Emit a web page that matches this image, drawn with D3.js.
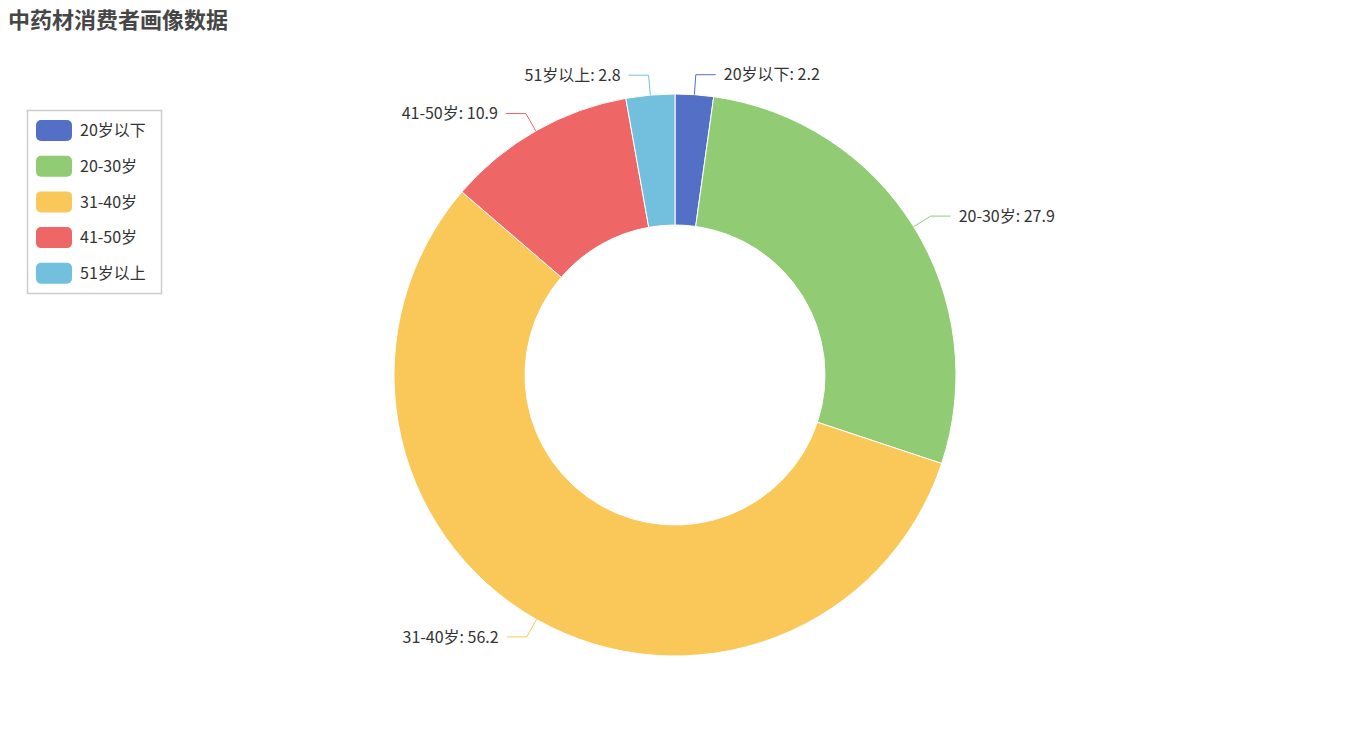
<!DOCTYPE html>
<html><head><meta charset="utf-8">
<script src="https://cdn.jsdelivr.net/npm/d3@7"></script>
<style>body{margin:0;background:#fff;font-family:"Microsoft YaHei","Noto Sans CJK SC",sans-serif;}</style>
</head><body>
<script>
// データ
const categories = ["20岁以下", "20-30岁", "31-40岁", "41-50岁", "51岁以上"];
const values = [2.2, 27.9, 56.2, 10.9, 2.8];
const colors = ["#5470c6", "#91cc75", "#fac858", "#ee6666", "#73c0de"];

const width = 1350, height = 750;
const cx = 675, cy = 375, outerR = 281, innerR = 150;

const svg = d3.select("body").append("svg").attr("width", width).attr("height", height);

// タイトル
svg.append("text").attr("x", 8).attr("y", 28)
  .attr("font-size", 22).attr("font-weight", "bold").attr("fill", "#464646")
  .text("中药材消费者画像数据");

const data = categories.map((c, i) => ({ name: c, value: values[i], color: colors[i] }));
const pie = d3.pie().value(d => d.value).sort(null);
const arcs = pie(data);
const arc = d3.arc().innerRadius(innerR).outerRadius(outerR);

const g = svg.append("g").attr("transform", `translate(${cx},${cy})`);
g.selectAll("path").data(arcs).enter().append("path")
  .attr("d", arc).attr("fill", d => d.data.color)
  .attr("stroke", "#fff").attr("stroke-width", 1);

// ラベル線
arcs.forEach(d => {
  const a = (d.startAngle + d.endAngle) / 2;
  const sx = Math.sin(a), sy = -Math.cos(a);
  const p0 = [sx * outerR, sy * outerR];
  const p1 = [sx * (outerR + 20), sy * (outerR + 20)];
  const right = sx >= 0;
  const p2 = [p1[0] + (right ? 20 : -20), p1[1]];
  g.append("polyline").attr("points", [p0, p1, p2].map(p => p.join(",")).join(" "))
    .attr("fill", "none").attr("stroke", d.data.color).attr("stroke-width", 1);
  g.append("text").attr("x", p2[0] + (right ? 8 : -8)).attr("y", p2[1])
    .attr("dy", "0.35em").attr("text-anchor", right ? "start" : "end")
    .attr("font-size", 16).attr("fill", "#333")
    .text(`${d.data.name}: ${d.data.value}`);
});

// 凡例
svg.append("rect").attr("x", 27.5).attr("y", 110.5).attr("width", 134).attr("height", 183)
  .attr("fill", "#fff").attr("stroke", "#ccc").attr("stroke-width", 1.5);
const leg = svg.selectAll(".leg").data(data).enter().append("g")
  .attr("transform", (d, i) => `translate(36,${120 + i * 35.7})`);
leg.append("rect").attr("width", 36).attr("height", 21).attr("rx", 5).attr("fill", d => d.color);
leg.append("text").attr("x", 44).attr("y", 10.5).attr("dy", "0.35em")
  .attr("font-size", 16).attr("fill", "#333").text(d => d.name);
</script>
</body></html>
